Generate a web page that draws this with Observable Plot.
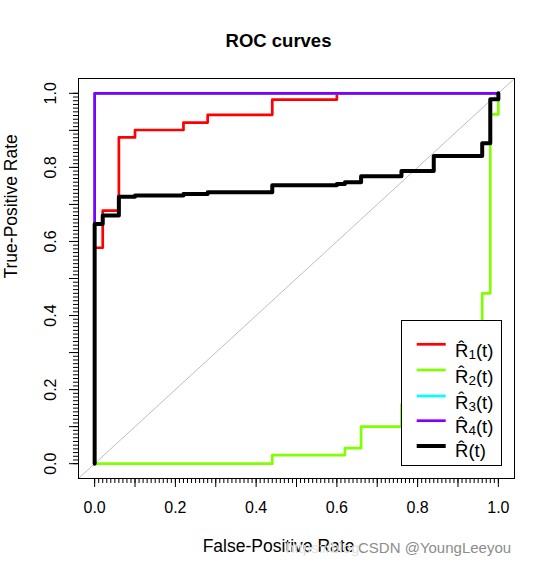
<!DOCTYPE html>
<html>
<head>
<meta charset="utf-8">
<script src="https://cdn.jsdelivr.net/npm/d3@7"></script>
<script src="https://cdn.jsdelivr.net/npm/@observablehq/plot@0.6"></script>
<style>
  html, body { margin: 0; padding: 0; background: #fff; }
  #wrap { position: relative; width: 555px; height: 576px; font-family: "Liberation Sans", Arial, sans-serif; }
  #legend { position: absolute; left: 401px; top: 320px; }
  #mark { position: absolute; left: 0; top: 0; }
</style>
</head>
<body>
<div id="wrap"></div>
<script>
// ---- data ----
const r1FPR = [0, 0, 0.02, 0.06, 0.10, 0.22, 0.28, 0.44, 0.60, 1.0];
const r1TPR = [0, 0.583, 0.683, 0.881, 0.901, 0.921, 0.942, 0.983, 1.0, 1.0];

const r2FPR = [0, 0.44, 0.62, 0.66, 0.76, 0.96, 0.98, 1.0, 1.0];
const r2TPR = [0, 0.023, 0.042, 0.100, 0.160, 0.460, 0.943, 1.0, 1.0];

const r3FPR = [0, 0, 1.0];
const r3TPR = [0, 1.0, 1.0];

const r4FPR = [0, 0, 1.0];
const r4TPR = [0, 1.0, 1.0];

const rFPR = [0, 0, 0.02, 0.06, 0.10, 0.22, 0.28, 0.44, 0.60, 0.62, 0.66, 0.76, 0.84, 0.96, 0.98, 1.0];
const rTPR = [0, 0.647, 0.670, 0.721, 0.724, 0.728, 0.733, 0.752, 0.755, 0.760, 0.776, 0.790, 0.831, 0.865, 0.984, 1.0];

const seriesSubs = ["1", "2", "3", "4", ""];
const seriesColors = ["#FF0000", "#80FF00", "#00FFFF", "#8000FF", "#000000"];
const seriesWidths = [2.7, 2.7, 2.7, 2.7, 4];

const labelTicks = [0, 0.2, 0.4, 0.6, 0.8, 1.0];
const majorTicks = d3.range(0, 11).map(i => i / 10);
const minorTicks = d3.range(0, 101).map(i => i / 100);
const axisDomain = [-0.04, 1.04];

const titleText = "ROC curves";
const xLabel = "False-Positive Rate";
const yLabel = "True-Positive Rate";

// ---- build ----
const toPts = (xs, ys) => xs.map((x, i) => ({x, y: ys[i]}));
const series = [
  toPts(r1FPR, r1TPR),
  toPts(r2FPR, r2TPR),
  toPts(r3FPR, r3TPR),
  toPts(r4FPR, r4TPR),
  toPts(rFPR, rTPR)
];
const diag = axisDomain.map(v => ({x: v, y: v}));

const font = "'Liberation Sans', Arial, sans-serif";

const chart = Plot.plot({
  width: 555,
  height: 576,
  marginTop: 78,
  marginRight: 41,
  marginBottom: 98,
  marginLeft: 78,
  x: {domain: axisDomain},
  y: {domain: axisDomain},
  style: {fontFamily: font, fontSize: "16px", background: "white", color: "black", overflow: "visible"},
  marks: [
    Plot.line(diag, {x: "x", y: "y", stroke: "#BEBEBE", strokeWidth: 1}),
    ...series.map((pts, i) => Plot.line(pts, {
      x: "x", y: "y", curve: "step-after",
      stroke: seriesColors[i], strokeWidth: seriesWidths[i],
      strokeLinejoin: "round", strokeLinecap: "round"
    })),
    Plot.frame({stroke: "black", strokeWidth: 1}),
    Plot.axisX({ticks: minorTicks, tickSize: 5, tickFormat: () => null, label: null, strokeWidth: 1}),
    Plot.axisX({ticks: majorTicks, tickSize: 9, tickFormat: () => null, label: null, strokeWidth: 1}),
    Plot.axisY({ticks: minorTicks, tickSize: 5, tickFormat: () => null, label: null, strokeWidth: 1}),
    Plot.axisY({ticks: majorTicks, tickSize: 9, tickFormat: () => null, label: null, strokeWidth: 1}),
    Plot.text(labelTicks, {x: d => d, frameAnchor: "bottom", dy: 34.5, lineAnchor: "bottom",
      text: d => d.toFixed(1), fontSize: 16, fill: "black"}),
    Plot.text(labelTicks, {y: d => d, frameAnchor: "left", dx: -23, rotate: -90, lineAnchor: "bottom",
      textAnchor: "middle", text: d => d.toFixed(1), fontSize: 16, fill: "black"}),
    Plot.text([titleText], {frameAnchor: "top", dx: -18, dy: -31.3, lineAnchor: "bottom",
      text: d => d, fontSize: 18.5, fontWeight: "bold", fill: "black"}),
    Plot.text([xLabel], {frameAnchor: "bottom", dx: -18, dy: 73.5, lineAnchor: "bottom",
      text: d => d, fontSize: 17.5, fill: "black"}),
    Plot.text([yLabel], {frameAnchor: "left", dx: -61.5, rotate: -90, lineAnchor: "bottom",
      text: d => d, fontSize: 17.5, fill: "black"})
  ]
});
const wrap = document.getElementById("wrap");
wrap.appendChild(chart);

// ---- legend ----
const lg = d3.create("svg").attr("id", "legend").attr("width", 102).attr("height", 147)
  .style("font-family", font);
lg.append("rect").attr("x", 0.5).attr("y", 0.5).attr("width", 100).attr("height", 145)
  .attr("fill", "white").attr("stroke", "black").attr("stroke-width", 1);
const rowY = [24.3, 50, 76, 100.7, 126];
seriesSubs.forEach((sub, i) => {
  const y = rowY[i];
  lg.append("line").attr("x1", 15.7).attr("x2", 44.7).attr("y1", y).attr("y2", y)
    .attr("stroke", seriesColors[i]).attr("stroke-width", seriesWidths[i]);
  const base = y + (sub ? 12.5 : 10.7);
  const t = lg.append("text").attr("x", 54).attr("y", base).attr("font-size", 18.5).attr("fill", "black");
  t.append("tspan").text("R\u0302");
  if (sub) {
    t.append("tspan").attr("font-size", 13.5).attr("dy", 2).text(sub);
    t.append("tspan").attr("dy", -2).text("(t)");
  } else {
    t.append("tspan").text("(t)");
  }
});
wrap.appendChild(lg.node());

// ---- watermark ----
const wm = d3.create("svg").attr("id", "mark").attr("width", 555).attr("height", 576)
  .style("font-family", font).style("pointer-events", "none");
wm.append("text").attr("x", 286).attr("y", 553).attr("font-size", 15).attr("fill", "#e2e2e2")
  .text("https://blog");
wm.append("text").attr("x", 358).attr("y", 553).attr("font-size", 15).attr("fill", "#8c8c8c")
  .attr("stroke", "white").attr("stroke-width", 2).attr("paint-order", "stroke")
  .text("CSDN @YoungLeeyou");
wrap.appendChild(wm.node());
</script>
</body>
</html>
